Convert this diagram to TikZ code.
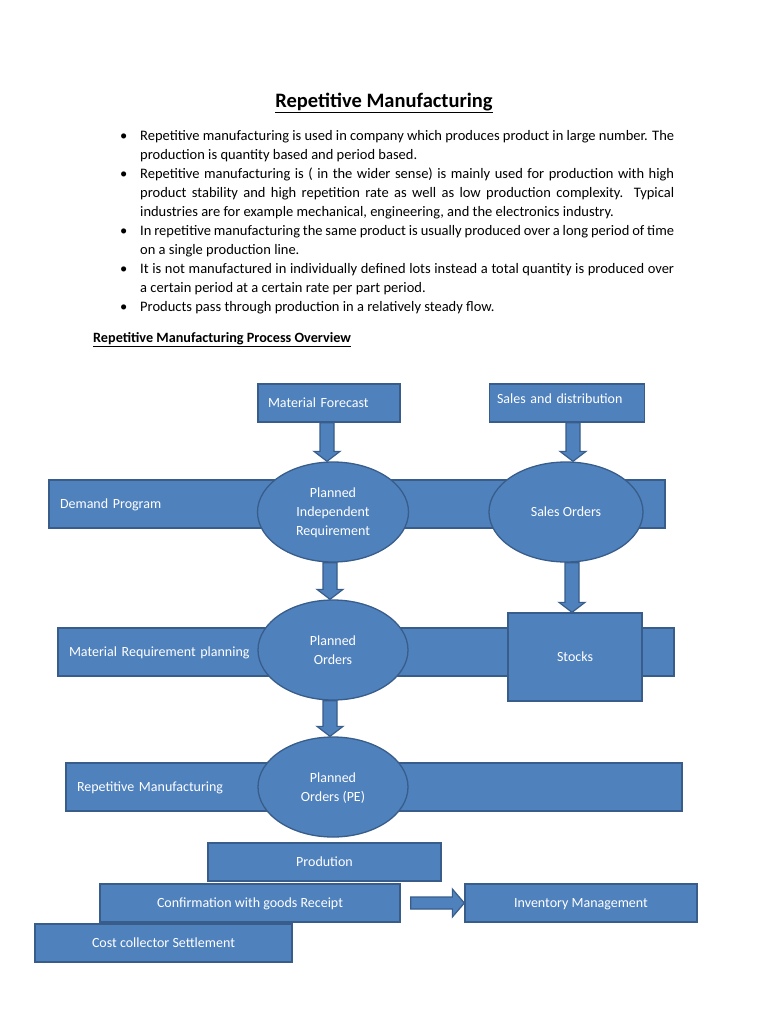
\documentclass[tikz,border=0pt]{standalone}
\usepackage{fontspec}
\setmainfont{Carlito}
\usetikzlibrary{calc,shapes.geometric}
\definecolor{boxblue}{HTML}{4F81BD}
\definecolor{boxedge}{HTML}{385D8A}
\newcommand\blockdown[2]{\draw[barrow] let \p1=#1, \p2=#2 in
  (\x1-7pt,\y1) -- (\x1+7pt,\y1) -- (\x1+7pt,\y2+10pt) -- (\x1+13pt,\y2+10pt) -- (\x1,\y2)
  -- (\x1-13pt,\y2+10pt) -- (\x1-7pt,\y2+10pt) -- cycle;}
\newcommand\bulletitem{\hangindent=20pt\hangafter=1\makebox[20pt][l]{\textbullet}}
\begin{document}
\begin{tikzpicture}[x=1pt,y=-1pt,
  every node/.style={font=\fontsize{14}{19}\selectfont},
  box/.style={draw=boxedge, fill=boxblue, line width=1.3pt, text=white, inner sep=0pt, text depth=0pt},
  bar/.style={box, minimum height=48pt, minimum width=616pt, text width=594pt, align=left, inner xsep=11pt},
  rbox/.style={box, minimum height=38pt, align=center},
  ell/.style={box, ellipse, minimum width=151pt, minimum height=100pt, align=center},
  barrow/.style={draw=boxedge, fill=boxblue, line width=1.2pt, line join=miter}]
\fill[white] (0,0) rectangle (768,1024);
\useasboundingbox (0,0) rectangle (768,1024);

% heading
\node[font=\fontsize{20.5}{24}\selectfont\bfseries] (title) at (384,103) {\underline{Repetitive Manufacturing}};
\node[anchor=north west, text width=554pt, align=justify, inner sep=0pt,
      font=\fontsize{14.5}{19}\selectfont] (text) at (120,130) {%
\hyphenpenalty=10000\exhyphenpenalty=10000\emergencystretch=20pt
\bulletitem Repetitive manufacturing is used in company which produces product in large number. The production is quantity based and period based.\par
\bulletitem Repetitive manufacturing is ( in the wider sense) is mainly used for production with high product stability and high repetition rate as well as low production complexity. Typical industries are for example mechanical, engineering, and the electronics industry.\par
\bulletitem In repetitive manufacturing the same product is usually produced over a long period of time on a single production line.\par
\bulletitem It is not manufactured in individually defined lots instead a total quantity is produced over a certain period at a certain rate per part period.\par
\bulletitem Products pass through production in a relatively steady flow.\par}; 
\node[anchor=west, inner sep=0pt, font=\fontsize{14.2}{16}\selectfont\bfseries] (sub) at (93,340) {\underline{Repetitive Manufacturing Process Overview}};

% bars
\node[bar] (dp) at (357,504) {Demand Program};
\node[bar] (mrp) at (366,652) {Material Requirement planning};
\node[bar] (rm) at (374,787) {Repetitive Manufacturing};

% top boxes
\node[rbox, minimum width=142pt, text width=122pt, align=left] (mf) at (329,403) {Material Forecast};
\node[rbox, minimum width=155pt, text width=140pt, align=left] (sd) at (567,403) {\raisebox{8pt}{Sales and distribution}};

% ellipses
\node[ell] (pir) at (333,512) {Planned\\Independent\\Requirement};
\node[ell, minimum width=154pt] (so) at (566,512) {Sales Orders};
\node[ell, minimum width=150pt] (po) at (333,650) {Planned\\Orders};
\node[box, minimum width=134pt, minimum height=88pt] (st) at (575,657) {Stocks};
\node[ell, minimum width=150pt] (pe) at (333,787) {Planned\\Orders (PE)};

% bottom boxes
\node[rbox, minimum width=233pt] (prod) at (324.5,862) {Prodution};
\node[rbox, minimum width=300pt] (conf) at (250,903) {Confirmation with goods Receipt};
\node[rbox, minimum width=232pt] (inv) at (581,903) {Inventory Management};
\node[rbox, minimum width=257pt] (ccs) at (163.5,943) {Cost collector Settlement};

% block arrows
\blockdown{($(mf.south)+(-2,0)$)}{(pir.north)}
\blockdown{($(sd.south)+(6,0)$)}{(so.north)}
\blockdown{($(pir.south)+(-3,0)$)}{(po.north)}
\blockdown{($(so.south)+(6,0)$)}{(st.north)}
\blockdown{($(po.south)+(-3,0)$)}{(pe.north)}
\draw[barrow] let \p1=($(conf.east)+(10,0)$), \p2=(inv.west) in
  (\x1,\y1+6pt) -- (\x2-12pt,\y1+6pt) -- (\x2-12pt,\y1+14pt) -- (\x2,\y1) -- (\x2-12pt,\y1-14pt)
  -- (\x2-12pt,\y1-6pt) -- (\x1,\y1-6pt) -- cycle;
\end{tikzpicture}
\end{document}
